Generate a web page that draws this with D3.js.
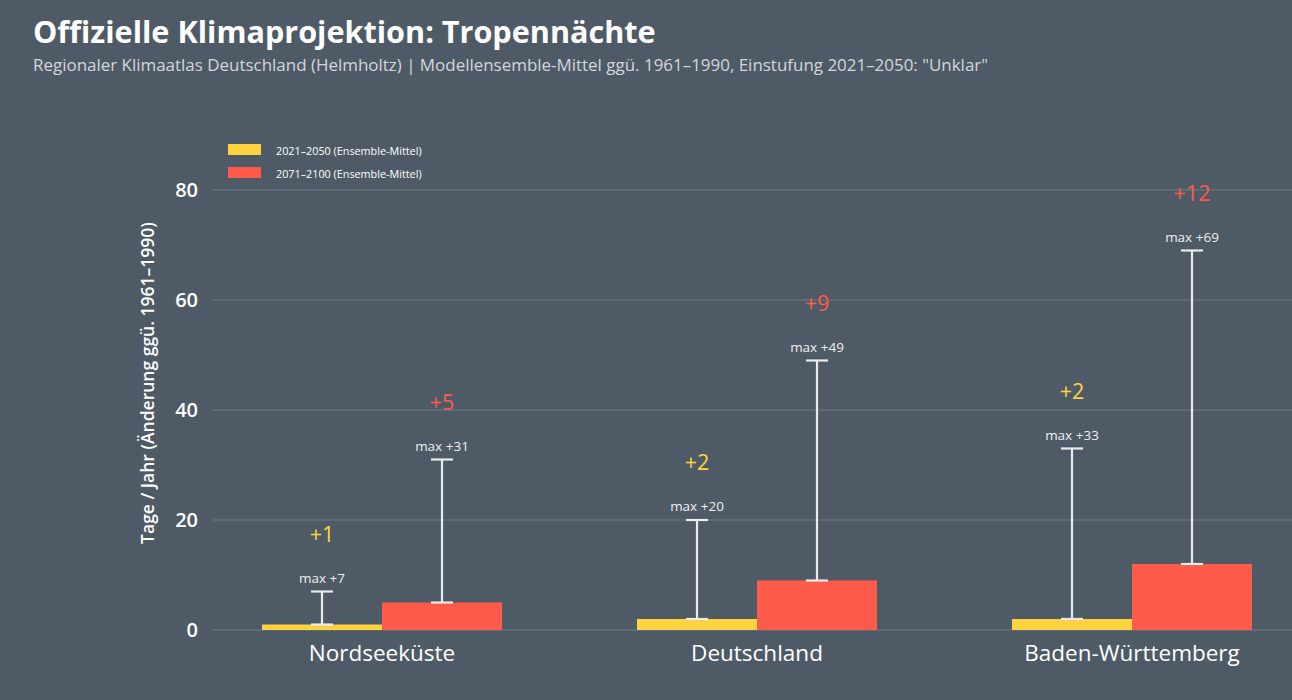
<!DOCTYPE html>
<html><head><meta charset="utf-8">
<script src="https://cdn.jsdelivr.net/npm/d3@7"></script>
<style>body{margin:0;background:#4e5b67;}svg{display:block;font-family:"Open Sans",sans-serif;}</style>
</head><body>
<svg id="c" width="1292" height="700"></svg>
<script>
const categories = ["Nordseeküste", "Deutschland", "Baden-Württemberg"];
const seriesNames = ["2021–2050 (Ensemble-Mittel)", "2071–2100 (Ensemble-Mittel)"];
const mean2021 = [1, 2, 2];
const max2021 = [7, 20, 33];
const mean2071 = [5, 9, 12];
const max2071 = [31, 49, 69];
const yTicks = [0, 20, 40, 60, 80];
const colors = ["#ffd23f", "#ff5a4a"];

const svg = d3.select("#c");
const W = 1292, H = 700;
svg.append("rect").attr("width", W).attr("height", H).attr("fill", "#4e5b67");

const y = d3.scaleLinear().domain([0, 80]).range([630, 190]);
const x = d3.scaleBand().domain(categories).range([194.5, 1319.5]).paddingInner(0.36).paddingOuter(0.18);
const xs = d3.scaleBand().domain([0, 1]).range([0, x.bandwidth()]);

// grid
svg.append("g").selectAll("line").data(yTicks).join("line")
  .attr("x1", 213).attr("x2", 1292)
  .attr("y1", d => y(d)).attr("y2", d => y(d))
  .attr("stroke", "#6e7a85").attr("stroke-width", 1);

// y axis labels
const yAxis = d3.axisLeft(y).tickValues(yTicks).tickSize(0).tickPadding(0);
const ya = svg.append("g").attr("transform", "translate(198,0)").call(yAxis);
ya.select(".domain").remove();
ya.selectAll("text").attr("fill", "#ffffff").attr("font-size", 20).attr("font-weight", 600)
  .attr("font-family", "Open Sans");

svg.append("text").attr("transform", "translate(154,383) rotate(-90)")
  .attr("text-anchor", "middle").attr("fill", "#ffffff").attr("font-size", 17.5).attr("font-weight", 600)
  .text("Tage / Jahr (Änderung ggü. 1961–1990)");

// x axis labels
const xAxis = d3.axisBottom(x).tickSize(0).tickPadding(0);
const xa = svg.append("g").attr("transform", "translate(0,645)").call(xAxis);
xa.select(".domain").remove();
xa.selectAll("text").attr("fill", "#ffffff").attr("font-size", 22.5).attr("font-weight", 500)
  .attr("font-family", "Open Sans").attr("dy", "0.71em");

const data = [];
categories.forEach((c, i) => {
  data.push({c, s: 0, v: mean2021[i], m: max2021[i]});
  data.push({c, s: 1, v: mean2071[i], m: max2071[i]});
});

const g = svg.append("g");
g.selectAll("rect.bar").data(data).join("rect").attr("class", "bar")
  .attr("x", d => x(d.c) + xs(d.s)).attr("width", xs.bandwidth())
  .attr("y", d => y(d.v)).attr("height", d => y(0) - y(d.v))
  .attr("fill", d => colors[d.s]);

const cx = d => x(d.c) + xs(d.s) + xs.bandwidth() / 2;
const eb = g.selectAll("g.eb").data(data).join("g").attr("class", "eb");
eb.append("line").attr("x1", cx).attr("x2", cx).attr("y1", d => y(d.v)).attr("y2", d => y(d.m))
  .attr("stroke", "#ebebeb").attr("stroke-width", 2.2);
eb.append("line").attr("x1", d => cx(d) - 11).attr("x2", d => cx(d) + 11).attr("y1", d => y(d.m)).attr("y2", d => y(d.m))
  .attr("stroke", "#ebebeb").attr("stroke-width", 2.2);
eb.append("line").attr("x1", d => cx(d) - 11).attr("x2", d => cx(d) + 11).attr("y1", d => y(d.v)).attr("y2", d => y(d.v))
  .attr("stroke", "#ebebeb").attr("stroke-width", 2.2);
eb.append("text").attr("x", cx).attr("y", d => y(d.m) - 9).attr("text-anchor", "middle")
  .attr("fill", "#eeeeee").attr("font-size", 13.5).attr("font-weight", 500).text(d => "max +" + d.m);
eb.append("text").attr("x", cx).attr("y", d => y(d.m) - 50).attr("text-anchor", "middle")
  .attr("fill", d => colors[d.s]).attr("font-size", 21.5).attr("font-weight", 500).text(d => "+" + d.v);

// legend
const lg = svg.append("g");
seriesNames.forEach((n, i) => {
  lg.append("rect").attr("x", 228).attr("y", 144 + i * 23).attr("width", 33).attr("height", 11).attr("fill", colors[i]);
  lg.append("text").attr("x", 276).attr("y", 155 + i * 23).attr("fill", "#ffffff").attr("font-size", 10.8)
    .attr("font-weight", 500).text(n);
});

// title
svg.append("text").attr("x", 33).attr("y", 43).attr("fill", "#ffffff").attr("font-size", 30.6).attr("font-weight", 700)
  .text("Offizielle Klimaprojektion: Tropennächte");
svg.append("text").attr("x", 33).attr("y", 71).attr("fill", "#d3d7db").attr("font-size", 16)
  .attr("textLength", 955).attr("lengthAdjust", "spacingAndGlyphs")
  .text('Regionaler Klimaatlas Deutschland (Helmholtz) | Modellensemble-Mittel ggü. 1961–1990, Einstufung 2021–2050: "Unklar"');
</script>
</body></html>
